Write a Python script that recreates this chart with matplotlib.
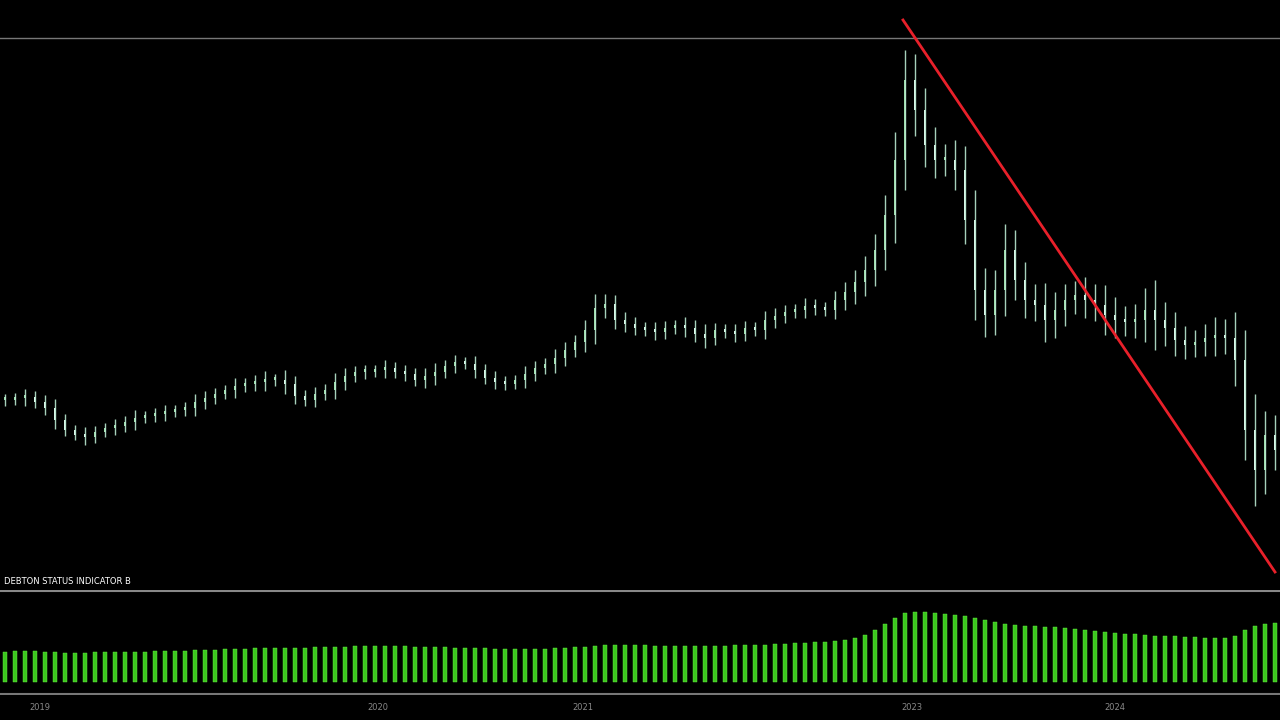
import numpy as np
import matplotlib
matplotlib.use("Agg")
import matplotlib.pyplot as plt

close = [200,202,203,198,192,180,170,165,163,168,172,174,178,182,184,186,188,190,192,198,
         202,206,210,214,216,218,220,220,216,204,200,206,210,218,224,228,228,230,232,228,
         226,220,224,228,234,238,236,230,222,218,216,220,226,232,236,242,250,258,270,292,
         296,280,276,272,270,268,272,274,272,266,262,270,268,266,272,270,280,284,288,290,
         294,292,290,300,308,318,330,350,385,440,520,490,455,440,440,430,380,310,285,310,
         350,320,300,295,280,290,300,305,300,295,285,280,278,280,290,280,272,260,255,258,
         262,265,262,240,170,130,165,150]
wick = [6,5,8,6,7,9,6,5,8,6,5,7,6,8,5,6,7,5,6,8,
        7,6,5,8,6,7,9,6,10,8,6,7,6,9,8,6,7,5,8,6,
        7,6,8,9,6,7,5,8,6,7,6,5,8,7,6,9,8,7,10,14,
        10,9,8,7,6,8,7,6,9,8,10,7,6,8,7,6,9,8,7,6,
        8,7,6,9,10,12,14,16,20,28,30,26,22,18,16,20,24,30,22,20,
        26,20,18,16,22,18,16,14,18,16,20,18,14,16,22,30,18,16,14,12,
        14,18,16,26,30,36,24,20]
volume = [30,31,31,31,30,30,29,29,29,30,30,30,30,30,30,31,31,31,31,32,
          32,32,33,33,33,34,34,34,34,34,34,35,35,35,35,36,36,36,36,36,
          36,35,35,35,35,34,34,34,34,33,33,33,33,33,33,34,34,35,35,36,
          37,37,37,37,37,36,36,36,36,36,36,36,36,37,37,37,37,38,38,39,
          39,40,40,41,42,44,47,52,58,64,69,70,70,69,68,67,66,64,62,60,
          58,57,56,56,55,55,54,53,52,51,50,49,48,48,47,46,46,46,45,45,
          44,44,44,46,52,56,58,59]
tick_labels = ["2019", "2020", "2021", "2023", "2024"]
tick_pos = [3.5, 37.3, 57.8, 90.7, 111.0]
label_text = "DEBTON STATUS INDICATOR B"

n = len(close)
x = np.arange(n)
opens = [close[0]] + close[:-1]

fig = plt.figure(figsize=(12.8, 7.2), dpi=100, facecolor="black")
ax = fig.add_axes([0, 1 - 590/720, 1, 590/720], facecolor="black")
axv = fig.add_axes([0, 1 - 695/720, 1, 105/720], facecolor="black")

for a in (ax, axv):
    for s in a.spines.values():
        s.set_visible(False)
    a.set_xticks([]); a.set_yticks([])
    a.set_xlim(-0.5, n - 0.5)

ax.set_ylim(10, 600)
hi = [max(o, c) + w for o, c, w in zip(opens, close, wick)]
lo = [min(o, c) - w for o, c, w in zip(opens, close, wick)]
ax.vlines(x, lo, hi, color="#b8e8d0", lw=1.0, alpha=0.9)
body_b = [min(o, c) for o, c in zip(opens, close)]
body_h = [max(abs(c - o), 3) for o, c in zip(opens, close)]
cols = ["#e0f8ee" if c < o else "#9adca6" for o, c in zip(opens, close)]
ax.bar(x, body_h, bottom=body_b, width=0.28, color=cols)
ax.axhline(562, color="#777777", lw=1)
ax.plot([89.8, 127], [580, 28], color="#e8202a", lw=2, clip_on=False)
ax.text(0.003, 9/590, label_text, transform=ax.transAxes, color="white",
        fontsize=6, va="center", ha="left")

axv.set_ylim(0, 105)
axv.bar(x, volume, bottom=13, width=0.4, color="#3cc81e", edgecolor="#66ee44", lw=0.3)
axv.axhline(104, color="#888888", lw=1.5)
axv.axhline(1, color="#777777", lw=1.5)

for p, t in zip(tick_pos, tick_labels):
    fig.text((p + 0.5) / n, 1 - 708/720, t, color="#888888", fontsize=6, ha="center", va="center")

fig.savefig("out.png", dpi=100, facecolor="black")
